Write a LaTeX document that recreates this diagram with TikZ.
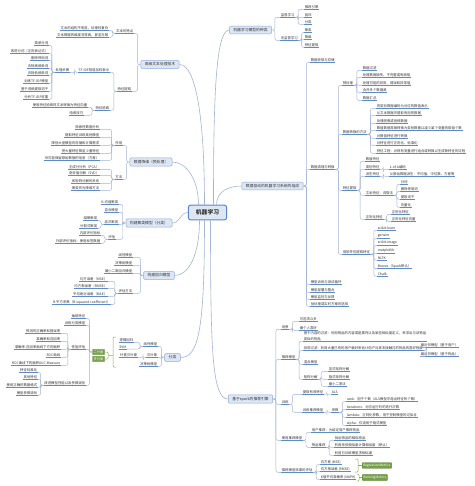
\documentclass[tikz,border=0pt]{standalone}
\usepackage{fontspec}
\setmainfont{Noto Sans CJK SC}
\definecolor{cCon}{HTML}{A3B5D1}
\definecolor{cUl}{HTML}{5B8BC9}
\definecolor{cBoxF}{HTML}{DDE7F4}
\definecolor{cBoxD}{HTML}{8FAADC}
\definecolor{cCenD}{HTML}{5A86C6}
\definecolor{cTxt}{HTML}{333333}
\definecolor{cGrn}{HTML}{76A047}
\definecolor{cGrnD}{HTML}{5E8A35}
\definecolor{cGrnL}{HTML}{8DB255}
\tikzset{
 leaf/.style={font=\fontsize{3.4}{4}\selectfont, inner xsep=0.6pt, inner ysep=0.6pt, text=cTxt},
 ul/.style={draw=cUl, line width=0.45pt},
 con/.style={draw=cCon, line width=0.45pt, rounded corners=2pt},
 mcon/.style={draw=cCon, line width=0.6pt},
 tbox/.style={draw=cBoxD, fill=cBoxF, rounded corners=1.2pt, line width=0.5pt, font=\fontsize{3.8}{4.5}\selectfont, inner xsep=4pt, inner ysep=2.2pt, text=cTxt},
 cbox/.style={draw=cCenD, fill=cBoxF, rounded corners=2pt, line width=1pt, font=\fontsize{5.8}{7}\selectfont\bfseries, inner xsep=7.5pt, inner ysep=4.5pt, text=cTxt},
 gbox/.style={fill=cGrn, draw=cGrnD, line width=0.3pt, rounded corners=0.6pt, font=\fontsize{3.2}{4}\selectfont, text=white, inner xsep=1.2pt, inner ysep=1.2pt},
 gline/.style={draw=cGrnL, line width=0.5pt, rounded corners=1pt},
}
% right-hand child: parent point, name, x(left end), y, text
\newcommand{\rcn}[5]{%
  \node[leaf,anchor=west] (#2) at (#3,#4) {#5};
  \draw[ul] (#2.south west) -- (#2.south east);
  \draw[con] (#1) -- ++(3,0) |- (#2.south west);}
% left-hand child: parent point, name, x(right end), y, text
\newcommand{\lcn}[5]{%
  \node[leaf,anchor=east] (#2) at (#3,#4) {#5};
  \draw[ul] (#2.south west) -- (#2.south east);
  \draw[con] (#1) -- ++(-3,0) |- (#2.south east);}
\begin{document}
\begin{tikzpicture}[x=1pt,y=-1pt]
\fill[white] (0,0) rectangle (474,486);
\useasboundingbox (0,0) rectangle (474,486);

% ---------- main nodes ----------
\node[cbox] (C) at (207.5,212.5) {机器学习};
\node[tbox] (T1) at (250.5,30) {机器学习模型的种类};
\node[tbox] (T2) at (160,64.5) {高级文本处理技术};
\node[tbox] (T3) at (151,162) {数据降维（预处理）};
\node[tbox] (T4) at (149,223) {构建聚类模型（分类）};
\node[tbox] (T5) at (159,275.5) {构建回归模型};
\node[tbox] (T6) at (172.5,357.5) {分类};
\node[tbox] (T7) at (272.5,186) {数据驱动的机器学习系统的组成};
\node[tbox] (T8) at (250.5,399) {基于spark的推荐引擎};

\draw[mcon] ([xshift=6pt]C.north) .. controls +(0,-100) and +(-14,0) .. (T1.west);
\draw[mcon] ([xshift=-3pt]C.north) .. controls +(0,-90) and +(16,0) .. (T2.east);
\draw[mcon] ([xshift=-9pt]C.north) .. controls +(0,-25) and +(14,0) .. (T3.east);
\draw[mcon] (C.west) .. controls +(-8,0) and +(8,0) .. (T4.east);
\draw[mcon] ([xshift=-8pt]C.south) .. controls +(0,35) and +(14,0) .. (T5.east);
\draw[mcon] ([xshift=-3pt]C.south) .. controls +(0,110) and +(18,0) .. (T6.east);
\draw[mcon] ([xshift=9pt]C.north) .. controls +(0,-14) and +(-12,0) .. (T7.west);
\draw[mcon] ([xshift=3pt]C.south) .. controls +(0,130) and +(-16,0) .. (T8.west);

% ---------- T1 ----------
\rcn{T1.east}{s1}{280}{15}{监督学习}
\rcn{T1.east}{s2}{280}{38}{无监督学习}
\rcn{s1.south east}{s1a}{304}{7}{推荐引擎}
\rcn{s1.south east}{s1b}{304}{15}{回归}
\rcn{s1.south east}{s1c}{304}{22}{分类}
\rcn{s2.south east}{s2a}{304}{30}{聚类}
\rcn{s2.south east}{s2b}{304}{37}{降维}
\rcn{s2.south east}{s2c}{304}{45}{特征提取}

% ---------- T2 ----------
\lcn{T2.west}{a1}{134}{31}{文本的特点}
\lcn{T2.west}{a2}{132}{89}{特征提取}
\lcn{a1.south west}{a1a}{109}{28}{文本的结构不明显，处理较复杂}
\lcn{a1.south west}{a1b}{109}{35}{文本数据的维度非常高，甚至无限}
\lcn{a2.south west}{b1}{110}{70}{TF-IDF短语加权表示}
\lcn{a2.south west}{b2}{110}{108}{特征哈希}
\lcn{b1.south west}{c1}{70}{70}{处理步骤}
\lcn{c1.south west}{c1a}{49}{43}{简单分词}
\lcn{c1.south west}{c1b}{49}{51}{改进分词（正则表达式）}
\lcn{c1.south west}{c1c}{49}{58}{删除停用词}
\lcn{c1.south west}{c1d}{49}{66}{去除高频单词}
\lcn{c1.south west}{c1e}{49}{73}{去除低频单词}
\lcn{c1.south west}{c1f}{49}{81}{训练TF-IDF模型}
\lcn{c1.south west}{c1g}{49}{89}{基于词频提取词干}
\lcn{c1.south west}{c1h}{49}{97}{分析TF-IDF权重}
\lcn{b2.south west}{b2a}{88}{105}{使用特征哈希将文本转换为特征向量}
\lcn{b2.south west}{b2b}{84}{113}{哈希技巧}

% ---------- T3 ----------
\lcn{T3.west}{d1}{123}{143}{作用}
\lcn{T3.west}{d2}{123}{177}{方法}
\lcn{d1.south west}{d1a}{100}{127}{探索性数据分析}
\lcn{d1.south west}{d1b}{100}{135}{提取特征训练其他模型}
\lcn{d1.south west}{d1c}{100}{143}{降低大型模型的存储和计算需求}
\lcn{d1.south west}{d1d}{100}{151}{把大量特征降至少量特征}
\lcn{d1.south west}{d1e}{100}{158}{尽可能保留原始数据的信息（方差）}
\lcn{d2.south west}{d2a}{100}{167}{主成分分析（PCA）}
\lcn{d2.south west}{d2b}{100}{173}{奇异值分解（SVD）}
\lcn{d2.south west}{d2c}{100}{181}{和矩阵分解的关系}
\lcn{d2.south west}{d2d}{100}{188}{聚类作为降维方法}

% ---------- T4 ----------
\lcn{T4.west}{e1}{119}{202}{K-均值聚类}
\lcn{T4.west}{e2}{119}{210}{混合模型}
\lcn{T4.west}{e3}{119}{222}{层次聚类}
\lcn{T4.west}{e4}{116}{237}{评估}
\lcn{e3.south west}{e3a}{98}{218}{凝聚聚类}
\lcn{e3.south west}{e3b}{98}{226}{分裂式聚类}
\lcn{e4.south west}{e4a}{101}{233}{内部评价指标}
\lcn{e4.south west}{e4b}{101}{241}{外部评价指标：使用标签数据}

% ---------- T5 ----------
\lcn{T5.west}{f1}{133}{255}{线性模型}
\lcn{T5.west}{f2}{133}{263}{决策树模型}
\lcn{T5.west}{f3}{133}{271}{最小二乘回归模型}
\lcn{T5.west}{f4}{133}{291}{评估方法}
\lcn{f4.south west}{f4a}{108}{279}{均方误差（MSE）}
\lcn{f4.south west}{f4b}{108}{286}{均方根误差（RMSE）}
\lcn{f4.south west}{f4c}{108}{294}{平均绝对误差（MAE）}
\lcn{f4.south west}{f4d}{111}{302}{R-平方系数（R-squared coefficient）}

% ---------- T6 ----------
\lcn{T6.west}{g1}{158}{344}{线性模型}
\lcn{T6.west}{g2}{158}{355}{贝叶斯}
\lcn{T6.west}{g3}{158}{364}{决策树模型}
\lcn{g1.south west}{g1a}{134}{340}{逻辑回归}
\lcn{g1.south west}{g1b}{127}{347}{SVM}
\lcn{g2.south west}{g2a}{138}{355}{朴素贝叶斯}
\node[gbox] (G1) at (98.5,352) {二分类};
\node[gbox] (G2) at (98.5,359) {多分类};
\draw[gline] (116,337) -- (113,337) -- (113,367) -- (116,367);
\draw[gline] (113,355.5) -- (108,355.5) |- (G1.east);
\draw[gline] (108,355.5) |- (G2.east);
\lcn{G1.west}{h1}{86}{316}{抽取特征}
\lcn{G1.west}{h2}{86}{323}{训练分类模型}
\lcn{G1.west}{h3}{86}{347}{性能评估}
\lcn{G1.west}{h4}{86}{383}{改进模型性能以及参数调优}
\lcn{h3.south west}{h3a}{61}{331}{预测的正确率和错误率}
\lcn{h3.south west}{h3b}{61}{339}{准确率和召回率}
\lcn{h3.south west}{h3c}{61}{347}{准确率-召回率曲线下方的面积}
\lcn{h3.south west}{h3d}{61}{355}{ROC曲线}
\lcn{h3.south west}{h3e}{61}{363}{ROC曲线下的面积AUC-Measure}
\lcn{h4.south west}{h4a}{38}{370}{特征标准化}
\lcn{h4.south west}{h4b}{38}{377}{其他特征}
\lcn{h4.south west}{h4c}{38}{385}{使用正确的数据格式}
\lcn{h4.south west}{h4d}{38}{393}{模型参数调优}

% ---------- T7 ----------
\rcn{T7.east}{k1}{310}{60}{数据获取与存储}
\rcn{T7.east}{k2}{310}{167}{数据清理与转换}
\rcn{T7.east}{k3}{310}{282}{模型训练与测试循环}
\rcn{T7.east}{k4}{310}{290}{模型部署与整合}
\rcn{T7.east}{k5}{310}{297}{模型监控与反馈}
\rcn{T7.east}{k6}{310}{304}{批处理或实时方案的选择}
\rcn{k2.south east}{m1}{342}{83}{预处理}
\rcn{k2.south east}{m2}{342}{132}{数据转换的方法}
\rcn{k2.south east}{m3}{342}{188}{特征提取}
\rcn{k2.south east}{m4}{342}{252}{用软件包提取特征}
\rcn{m1.south east}{m1a}{362}{68}{数据过滤}
\rcn{m1.south east}{m1b}{362}{75}{处理数据缺失、不完整或有缺陷}
\rcn{m1.south east}{m1c}{362}{83}{处理可能的异常、错误和异常值}
\rcn{m1.south east}{m1d}{362}{90}{合并多个数据源}
\rcn{m1.south east}{m1e}{362}{98}{数据汇总}
\rcn{m2.south east}{m2a}{376}{106}{将类别数据编码为对应的数值表示}
\rcn{m2.south east}{m2b}{376}{113}{从文本数据中提取有用的数据}
\rcn{m2.south east}{m2c}{376}{121}{处理图像或音频数据}
\rcn{m2.south east}{m2d}{376}{128}{数值数据常被转换为类别数据以减少某个变量的取值个数}
\rcn{m2.south east}{m2e}{376}{136}{对数值特征进行转换}
\rcn{m2.south east}{m2f}{376}{143}{对特征进行正则化、标准化}
\rcn{m2.south east}{m2g}{376}{151}{特征工程：对现有变量进行组合或转换以生成新特征的过程}
\rcn{m3.south east}{n1}{365}{159}{数值特征}
\rcn{m3.south east}{n2}{365}{167}{类别特征}
\rcn{m3.south east}{n3}{365}{174}{派生特征}
\rcn{m3.south east}{n4}{365}{193}{文本特征：词袋法}
\rcn{m3.south east}{n5}{365}{217}{正则化特征}
\rcn{n2.south east}{n2a}{389}{167}{1-of-k编码}
\rcn{n3.south east}{n3a}{389}{174}{从原始数据派生：平均值、中位数、方差等}
\rcn{n4.south east}{n4a}{400}{182}{分词}
\rcn{n4.south east}{n4b}{400}{189}{删除停用词}
\rcn{n4.south east}{n4c}{400}{197}{提取词干}
\rcn{n4.south east}{n4d}{400}{205}{向量化}
\rcn{n5.south east}{n5a}{391}{212}{正则化特征}
\rcn{n5.south east}{n5b}{391}{219}{正则化特征向量}
\rcn{m4.south east}{o1}{377}{228}{scikit-learn}
\rcn{m4.south east}{o2}{377}{236}{gensim}
\rcn{m4.south east}{o3}{377}{243}{scikit-image}
\rcn{m4.south east}{o4}{377}{251}{matplotlib}
\rcn{m4.south east}{o5}{377}{258}{NLTK}
\rcn{m4.south east}{o6}{377}{266}{Breeze（Spark默认）}
\rcn{m4.south east}{o7}{377}{274}{Chalk}

% ---------- T8 ----------
\rcn{T8.east}{p1}{281}{327}{场景}
\rcn{T8.east}{p2}{281}{357}{推荐模型}
\rcn{T8.east}{p3}{281}{402}{训练}
\rcn{T8.east}{p4}{281}{438}{使用推荐模型}
\rcn{T8.east}{p5}{281}{470}{推荐模型效果的评估}
\rcn{p1.south east}{p1a}{299}{319}{可选项众多}
\rcn{p1.south east}{p1b}{299}{328}{偏个人喜好}
\node[leaf,anchor=west,align=left,font=\fontsize{3.4}{5.5}\selectfont] (q1) at (303,336)
  {基于内容的过滤：利用物品的内容或是属性以及某些相似度定义，来求出与该物品\\类似的物品};
\draw[ul] (q1.south west) -- (q1.south east);
\draw[con] (p2.south east) -- ++(3,0) |- (q1.south west);
\rcn{p2.south east}{q2}{303}{348}{协同过滤：利用大量已有的用户偏好来估计用户对其未接触过的物品的喜好程度}
\rcn{p2.south east}{q3}{303}{362}{混合模型}
\rcn{p2.south east}{q4}{303}{377}{矩阵分解}
\rcn{q2.south east}{q2a}{420}{345}{最近邻模型（基于用户）}
\rcn{q2.south east}{q2b}{420}{354}{最近邻模型（基于物品）}
\rcn{q4.south east}{q4a}{328}{369}{显式矩阵分解}
\rcn{q4.south east}{q4b}{328}{377}{隐式矩阵分解}
\rcn{q4.south east}{q4c}{328}{384}{最小二乘法}
\rcn{p3.south east}{r1}{302}{392}{提取有效特征}
\rcn{p3.south east}{r2}{302}{410}{训练推荐模型}
\rcn{r1.south east}{r1a}{331}{392}{ALS}
\rcn{r2.south east}{r2a}{331}{410}{参数}
\rcn{r2a.south east}{r2a1}{346}{399}{rank：因子个数（ALS模型中隐含特征的个数）}
\rcn{r2a.south east}{r2a2}{346}{407}{iterations：对应运行时的迭代次数}
\rcn{r2a.south east}{r2a3}{346}{415}{lambda：正则化参数，用于控制模型的过拟合}
\rcn{r2a.south east}{r2a4}{346}{423}{alpha：仅适用于隐式模型}
\rcn{p4.south east}{t1}{311}{430}{用户推荐：为给定用户推荐物品}
\rcn{p4.south east}{t2}{311}{445}{物品推荐}
\rcn{t2.south east}{t2a}{334}{438}{找出物品的相似物品}
\rcn{t2.south east}{t2b}{334}{445}{利用余弦相似度计算相似度（默认）}
\rcn{t2.south east}{t2c}{334}{453}{利用已训练模型求相似度}
\rcn{p5.south east}{u1}{320}{462}{均方差 (MSE)}
\rcn{p5.south east}{u2}{320}{469}{均方根误差 (RMSE)}
\rcn{p5.south east}{u3}{320}{477}{K值平均准确率 (MAPK)}
\node[gbox,anchor=west] (R1) at (362,465.5) {RegressionMetrics};
\node[gbox,anchor=west] (R2) at (362,477.5) {RankingMetrics};
\draw[gline] (355,459) -- (358,459) -- (358,472) -- (355,472);
\draw[gline] (358,465.5) -- (R1.west);
\draw[gline] (357,474) -- (359,474) -- (359,481) -- (357,481);
\draw[gline] (359,477.5) -- (R2.west);
\end{tikzpicture}
\end{document}
